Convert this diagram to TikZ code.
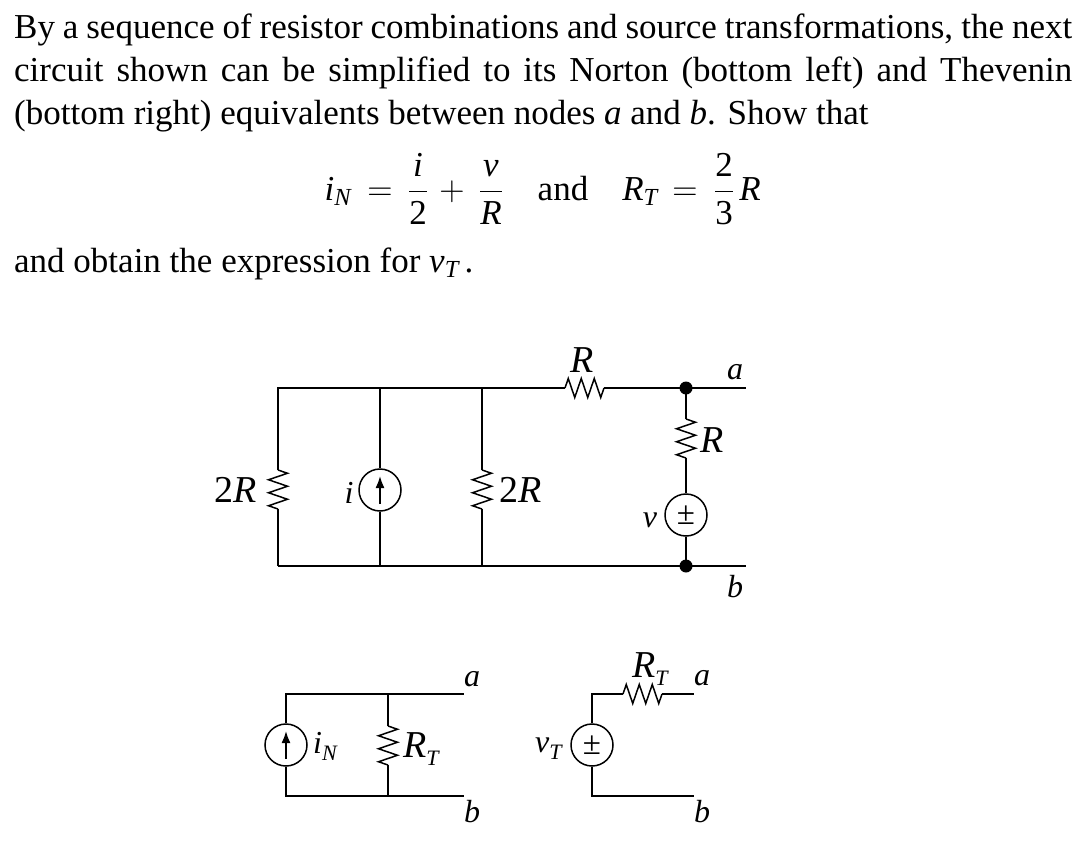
\documentclass[tikz,border=0pt]{standalone}
\usepackage{fix-cm}
\usepackage{amsmath}
\usepackage{fontspec}
\setmainfont{Liberation Serif}
\usetikzlibrary{arrows.meta}
\usetikzlibrary{decorations.pathmorphing}

\newcommand{\mi}[1]{\mathit{#1}}
\newcommand{\subt}[2]{\textit{#1}\raisebox{-0.22em}{\fontsize{22}{22}\selectfont\textit{#2}}}

\tikzset{
    wire/.style={line width=1.7pt},
    resistor/.style={line width=1.5pt, decorate, decoration={zigzag, segment length=13pt, amplitude=9.5pt}},
    source/.style={circle, draw, line width=1.5pt, minimum size=42pt, inner sep=0pt},
    junction/.style={circle, fill=black, minimum size=13pt, inner sep=0pt},
    para/.style={anchor=base west, inner sep=0pt, font=\fontsize{35}{43}\selectfont},
    eqn/.style={anchor=base, inner sep=0pt, font=\fontsize{35}{43}\selectfont},
    lab/.style={anchor=base, inner sep=0pt, font=\fontsize{32}{36}\selectfont\itshape},
    biglab/.style={anchor=base, inner sep=0pt, font=\fontsize{38}{42}\selectfont},
    sign/.style={inner sep=0pt, font=\fontsize{33}{33}\selectfont},
}

\begin{document}
\begin{tikzpicture}[x=1pt, y=-1pt]
\useasboundingbox (0,0) rectangle (1090,862);

% Problem text
\node[para] (line1) at (14,38) {\makebox[1058pt][s]{By a sequence of resistor combinations and source transformations, the next}};
\node[para] (line2) at (14,81) {\makebox[1058pt][s]{circuit shown can be simplified to its Norton (bottom left) and Thevenin}};
\node[para] (line3) at (14,124) {(bottom right) equivalents between nodes \textit{a} and \textit{b}. Show that};
\node[para] (line4) at (14,272) {and obtain the expression for $\mi{v}_{\mi{T}}$\,.};

% Equations
\node[eqn] (eqin) at (338,200) {$\mi{i}_{\mi{N}}$};
\node[eqn] (eqa) at (380,200) {$=$};
\node[eqn] (eqfa) at (418,200) {$\dfrac{\mi{i}}{\text{2}}$};
\node[eqn] (eqplus) at (452,200) {$+$};
\node[eqn] (eqfb) at (491,200) {$\dfrac{\mi{v}}{\mi{R}}$};
\node[eqn] (eqand) at (563,200) {and};
\node[eqn] (eqrt) at (640,200) {$\mi{R}_{\mi{T}}$};
\node[eqn] (eqb) at (685,200) {$=$};
\node[eqn] (eqfc) at (724,200) {$\dfrac{\text{2}}{\text{3}}$};
\node[eqn] (eqr) at (750,200) {$\mi{R}$};

% Top circuit
\foreach \name/\x in {1/278, 2/380, 3/482, 4/686} {
    \coordinate (top\name) at (\x,388);
    \coordinate (bot\name) at (\x,566);
}
\coordinate (topend) at (746,388);
\coordinate (botend) at (746,566);
\coordinate (ser1) at (565,388);
\coordinate (ser2) at (604,388);
\coordinate (res1a) at (278,470);
\coordinate (res1b) at (278,509);
\coordinate (res3a) at (482,470);
\coordinate (res3b) at (482,509);
\coordinate (res4a) at (686,419);
\coordinate (res4b) at (686,458);

\node[source] (isrc) at (380,490) {};
\node[source] (vsrc) at (686,515) {};
\node[junction] (dota) at (top4) {};
\node[junction] (dotb) at (bot4) {};

\draw[wire] (bot1) -- (res1b);
\draw[wire] (res1a) -- (top1) -- (ser1);
\draw[wire] (ser2) -- (topend);
\draw[wire] (bot1) -- (botend);
\draw[wire] (top2) -- (isrc);
\draw[wire] (isrc) -- (bot2);
\draw[wire] (top3) -- (res3a);
\draw[wire] (res3b) -- (bot3);
\draw[wire] (top4) -- (res4a);
\draw[wire] (res4b) -- (vsrc);
\draw[wire] (vsrc) -- (bot4);
\draw[resistor] (res1a) -- (res1b);
\draw[resistor] (res3a) -- (res3b);
\draw[resistor] (res4a) -- (res4b);
\draw[resistor] (ser1) -- (ser2);

\coordinate (isrctail) at (380,504);
\coordinate (isrchead) at (380,476);
\draw[wire, -{Latex[length=12pt,width=9pt]}] (isrctail) -- (isrchead);
\node[sign] (vsign) at (686,515) {±};

\node[biglab] (l2ra) at (236,502) {2\textit{R}};
\node[biglab] (l2rb) at (521,502) {2\textit{R}};
\node[lab] (li) at (349,503) {i};
\node[biglab] (lr) at (582,372) {\textit{R}};
\node[biglab] (lrb) at (712,452) {\textit{R}};
\node[lab] (lv) at (650,527) {v};
\node[lab] (la) at (735,379) {a};
\node[lab] (lb) at (735,597) {b};

% Norton equivalent
\coordinate (ntl) at (286,694);
\coordinate (ntm) at (388,694);
\coordinate (ntr) at (464,694);
\coordinate (nbl) at (286,796);
\coordinate (nbm) at (388,796);
\coordinate (nbr) at (464,796);
\coordinate (nra) at (388,726);
\coordinate (nrb) at (388,765);
\node[source] (nsrc) at (286,745) {};

\draw[wire] (nsrc) -- (ntl) -- (ntr);
\draw[wire] (nsrc) -- (nbl) -- (nbr);
\draw[wire] (ntm) -- (nra);
\draw[wire] (nrb) -- (nbm);
\draw[resistor] (nra) -- (nrb);

\coordinate (nsrctail) at (286,759);
\coordinate (nsrchead) at (286,731);
\draw[wire, -{Latex[length=12pt,width=9pt]}] (nsrctail) -- (nsrchead);

\node[lab, anchor=base west] (lin) at (313,753) {\subt{i}{N}};
\node[biglab, anchor=base west] (lnrt) at (403,757) {\subt{R}{T}};
\node[lab] (lna) at (472,686) {a};
\node[lab] (lnb) at (472,822) {b};

% Thevenin equivalent
\coordinate (ttl) at (592,694);
\coordinate (tr1) at (623,694);
\coordinate (tr2) at (662,694);
\coordinate (ttr) at (694,694);
\coordinate (tbl) at (592,796);
\coordinate (tbr) at (694,796);
\node[source] (tsrc) at (592,745) {};

\draw[wire] (tsrc) -- (ttl) -- (tr1);
\draw[wire] (tr2) -- (ttr);
\draw[wire] (tsrc) -- (tbl) -- (tbr);
\draw[resistor] (tr1) -- (tr2);

\node[sign] (tsign) at (592,745) {±};

\node[biglab, anchor=base west] (ltrt) at (632,677) {\subt{R}{T}};
\node[lab, anchor=base west] (lvt) at (535,752) {\subt{v}{T}};
\node[lab] (lta) at (702,685) {a};
\node[lab] (ltb) at (702,822) {b};

\end{tikzpicture}
\end{document}
